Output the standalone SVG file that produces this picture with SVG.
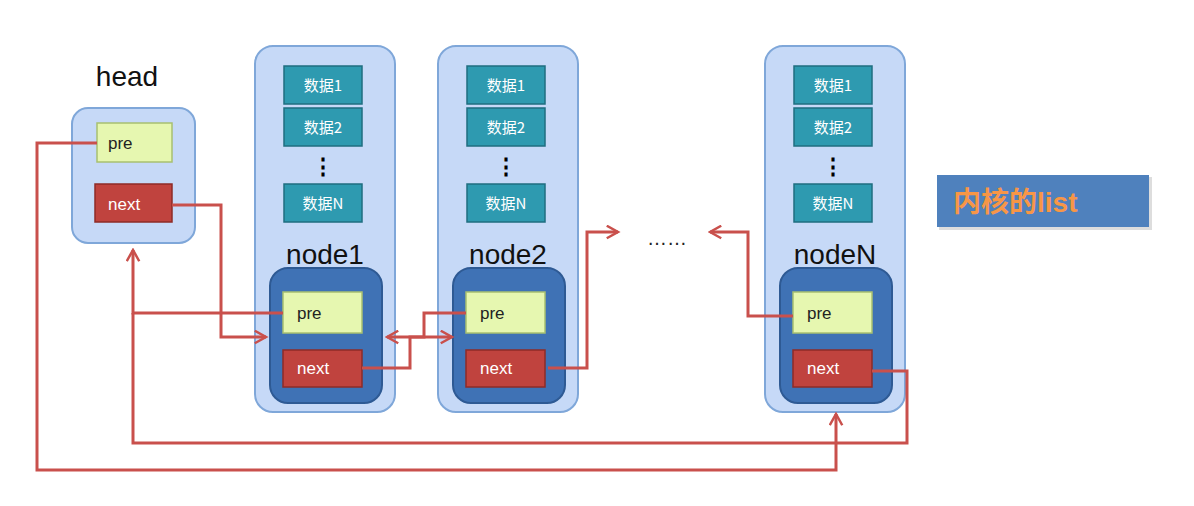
<svg xmlns="http://www.w3.org/2000/svg" width="1194" height="506" viewBox="0 0 1194 506">
<style>
.outer{fill:#c6d9f7;stroke:#7fa7d9;stroke-width:2}
.inner{fill:#3f72b5;stroke:#2e5a94;stroke-width:2}
.data{fill:#2e9ab0;stroke:#1f6e80;stroke-width:1.5}
.pre{fill:#e6f7b0;stroke:#a8c070;stroke-width:1.5}
.next{fill:#c0433e;stroke:#8e2b27;stroke-width:1.5}
.dt{font-family:"Noto Sans CJK SC",sans-serif;font-size:15px;fill:#fff;text-anchor:middle}
.ft{font-family:"Liberation Sans",sans-serif;font-size:17px}
.title{font-family:"Liberation Sans",sans-serif;font-size:28px;fill:#111;text-anchor:middle}
.c{fill:none;stroke:#c9504c;stroke-width:3}
</style>
<defs>
<marker id="a" viewBox="0 0 12 12" refX="10" refY="6" markerWidth="5" markerHeight="5" orient="auto" markerUnits="strokeWidth">
<path d="M1,1 L10,6 L1,11" fill="none" stroke="#c9504c" stroke-width="2"/>
</marker>
<g id="node">
<rect class="outer" x="0" y="0" width="140" height="366" rx="18"/>
<rect class="data" x="29" y="20" width="78" height="38"/><text class="dt" x="68" y="45">数据1</text>
<rect class="data" x="29" y="62" width="78" height="38"/><text class="dt" x="68" y="87">数据2</text>
<text x="68" y="128" font-family="Liberation Sans,sans-serif" font-size="22" font-weight="bold" text-anchor="middle">⋮</text>
<rect class="data" x="29" y="138" width="78" height="38"/><text class="dt" x="68" y="163">数据N</text>
<rect class="inner" x="15" y="222" width="112" height="135" rx="18"/>
<rect class="pre" x="28" y="246" width="79" height="41"/><text class="ft" x="42" y="273" fill="#222">pre</text>
<rect class="next" x="28" y="304" width="79" height="37"/><text class="ft" x="42" y="328" fill="#fff">next</text>
</g>
</defs>
<rect width="1194" height="506" fill="#fff"/>
<g id="head">
<text class="title" x="127" y="86">head</text>
<rect class="outer" x="72" y="108" width="123" height="135" rx="16"/>
<rect class="pre" x="97" y="123" width="75" height="39"/><text class="ft" x="108" y="149" fill="#222">pre</text>
<rect class="next" x="95" y="184" width="77" height="38"/><text class="ft" x="108" y="210" fill="#fff">next</text>
</g>
<g id="node1"><use href="#node" x="255" y="46"/><text class="title" x="325" y="264">node1</text></g>
<g id="node2"><use href="#node" x="438" y="46"/><text class="title" x="508" y="264">node2</text></g>
<g id="nodeN"><use href="#node" x="765" y="46"/><text class="title" x="835" y="264">nodeN</text></g>
<g id="dots"><text x="667" y="245" font-family="Liberation Sans,sans-serif" font-size="20" text-anchor="middle" fill="#222">……</text></g>
<g id="label">
<rect x="939" y="177" width="213" height="53" fill="#bbb" opacity="0.5"/>
<rect x="937" y="175" width="212" height="52" fill="#4f81bd"/>
<text x="953" y="212" font-family="Liberation Sans,'Noto Sans CJK SC',sans-serif" font-size="28" font-weight="bold" fill="#f79646">内核的list</text>
</g>
<g id="connectors">
<path class="c" d="M172,205 H221 V337 H266" marker-end="url(#a)"/>
<path class="c" d="M283,313 H133 V250" marker-end="url(#a)"/>
<path class="c" d="M362,368 H410 V337 H452" marker-end="url(#a)"/>
<path class="c" d="M466,313 H424 V337 H387" marker-end="url(#a)"/>
<path class="c" d="M548,368 H587 V232 H618" marker-end="url(#a)"/>
<path class="c" d="M793,316 H748 V232 H710" marker-end="url(#a)"/>
<path class="c" d="M872,371 H907 V443 H133 V313"/>
<path class="c" d="M97,143 H37 V470 H836 V414" marker-end="url(#a)"/>
</g>
</svg>
